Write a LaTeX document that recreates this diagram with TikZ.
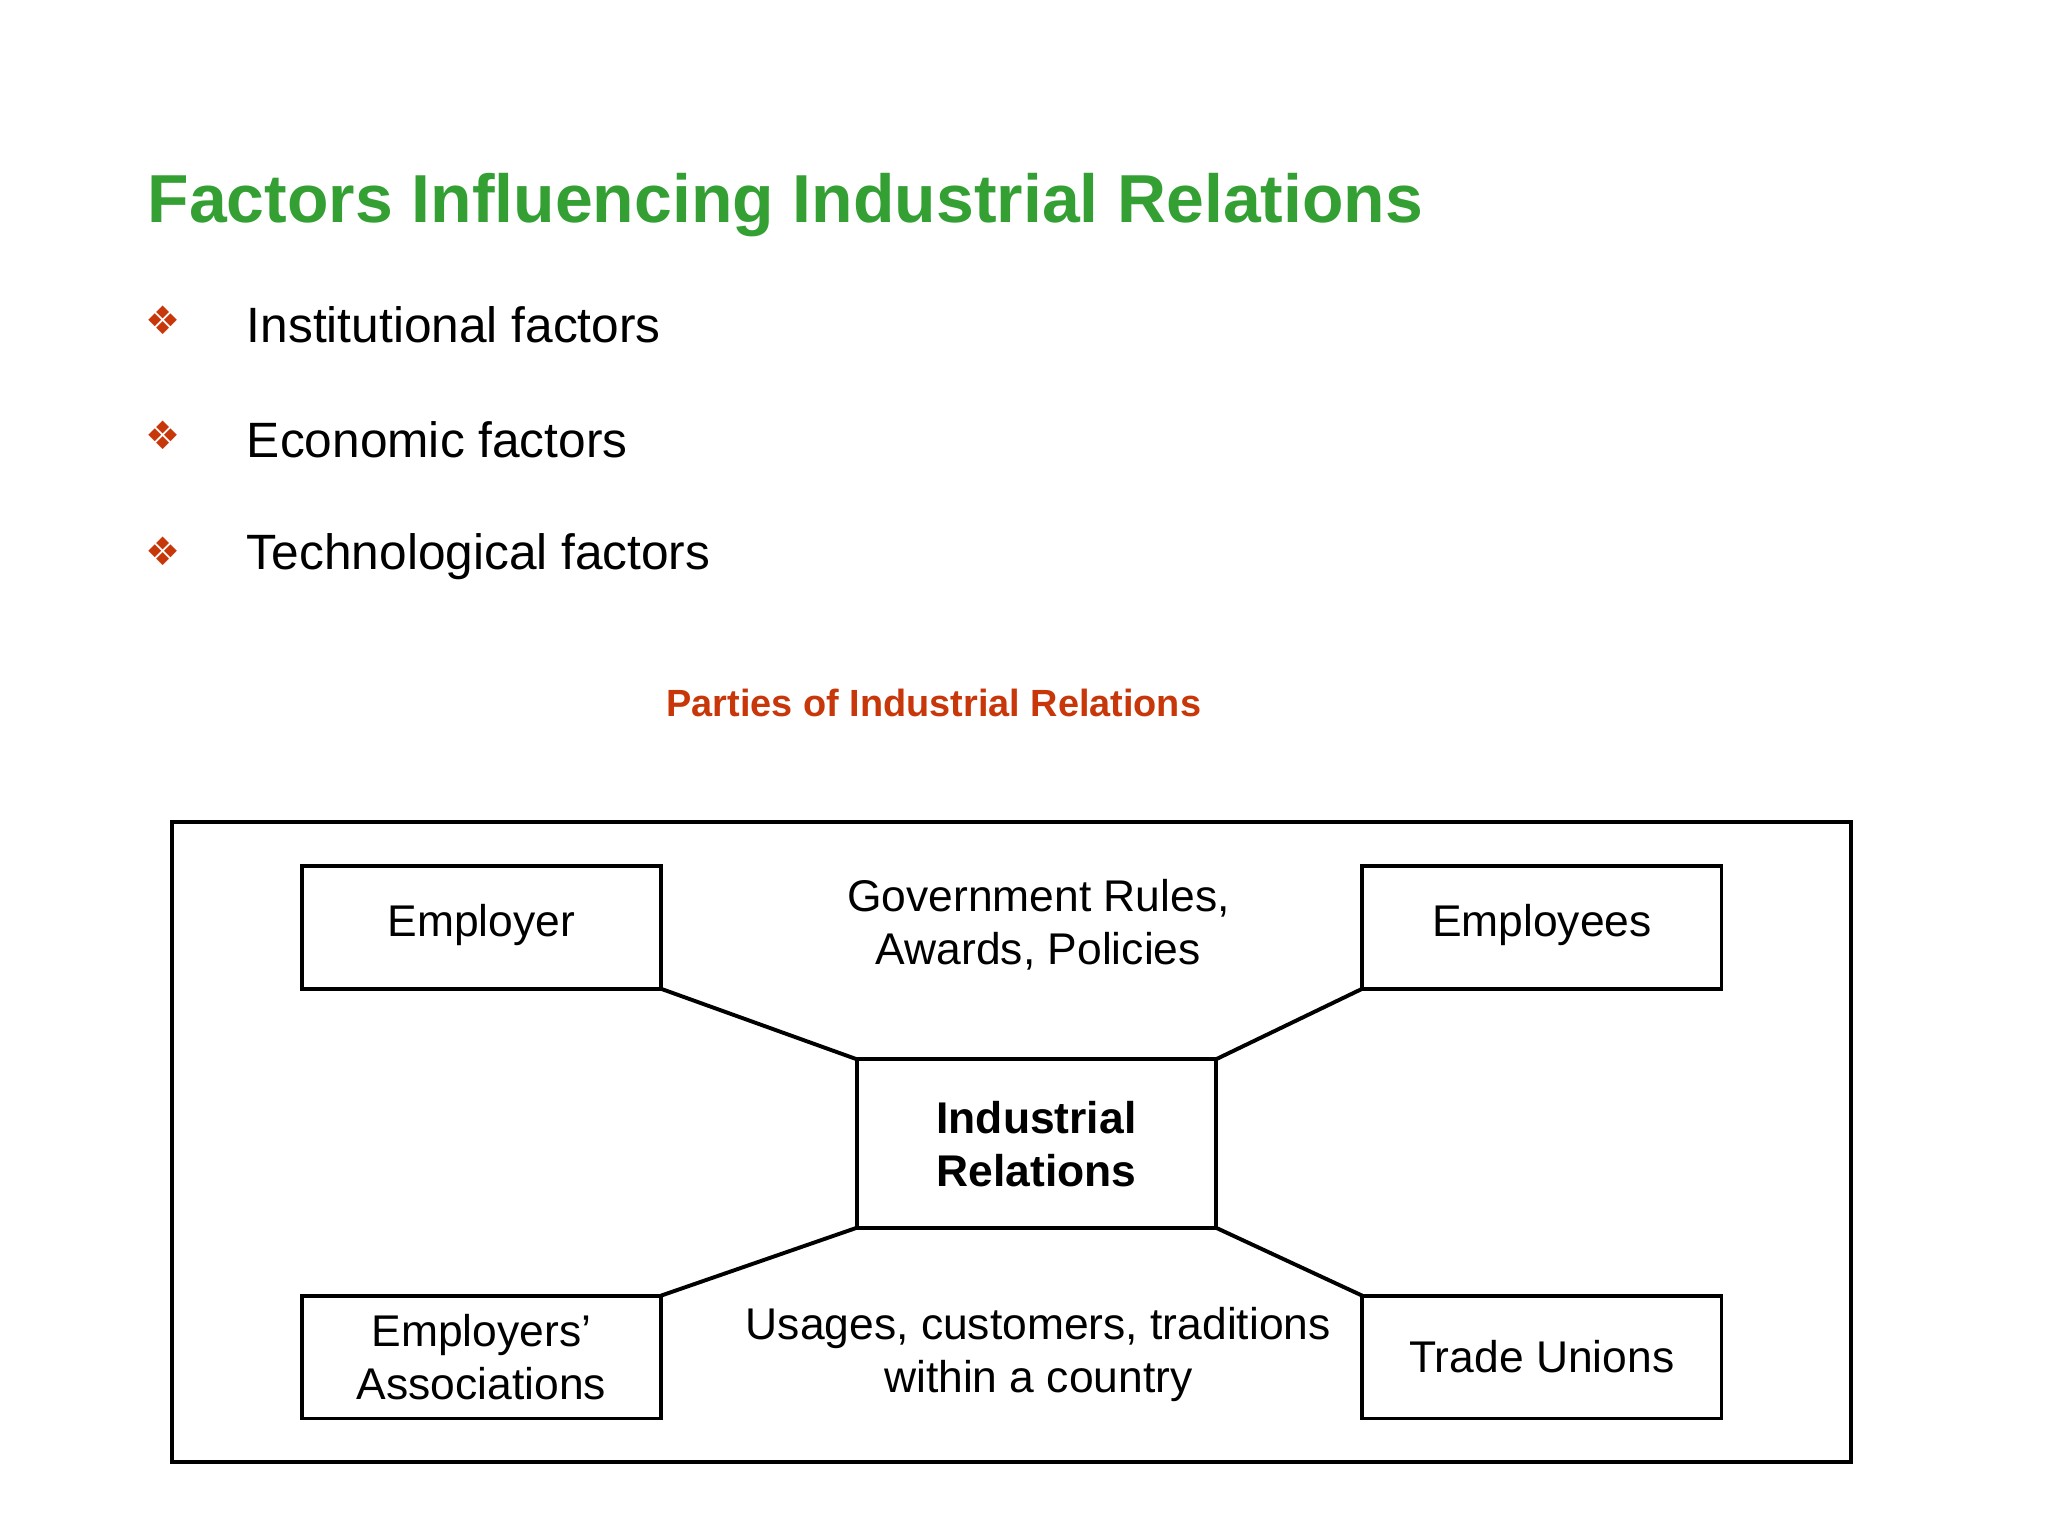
\documentclass[tikz,border=0pt]{standalone}
\usepackage{fontspec}
\setmainfont{Liberation Sans}
\newfontfamily\symb{DejaVu Sans}
\definecolor{ttlgreen}{RGB}{52,160,52}
\definecolor{redor}{RGB}{200,55,10}
\begin{document}
\begin{tikzpicture}[x=0.5pt,y=-0.5pt,
  box/.style={draw,line width=1.5pt,inner sep=0pt},
  lbl/.style={font=\fontsize{17}{20}\selectfont,align=center},
  conn/.style={line width=1.5pt}]
\useasboundingbox (0,0) rectangle (1568,1176);
\fill[white] (0,0) rectangle (1568,1176);
\node[anchor=west,text=ttlgreen,font=\fontsize{26}{30}\selectfont\bfseries] (title) at (106,157) {Factors Influencing Industrial Relations};
\foreach \y/\t [count=\i] in {249/Institutional factors,337/Economic factors,426/Technological factors}{
  \node[text=redor,font=\symb\fontsize{15}{18}\selectfont] (b\i) at (125,\y-4) {❖};
  \node[anchor=west,font=\fontsize{19}{22}\selectfont] (t\i) at (182,\y) {\t};
}
\node[text=redor,font=\fontsize{14.5}{17}\selectfont\bfseries] (sub) at (715,538) {Parties of Industrial Relations};
\draw[line width=1.5pt] (132,629) rectangle (1417,1119);
\draw[box] (231,663) rectangle (506,757);
\node[lbl] (emp) at (368.5,708) {Employer};
\draw[box] (1043,663) rectangle (1318,757);
\node[lbl] (emps) at (1180.5,708) {Employees};
\draw[box] (231,992) rectangle (506,1086);
\node[lbl] (ea) at (368.5,1039) {Employers’\\Associations};
\draw[box] (1043,992) rectangle (1318,1086);
\node[lbl] (tu) at (1180.5,1039) {Trade Unions};
\draw[box] (656,811) rectangle (931,940);
\node[lbl,font=\fontsize{17}{20}\selectfont\bfseries] (ir) at (793.5,876) {Industrial\\Relations};
\node[lbl] (gov) at (795,708) {Government Rules,\\Awards, Policies};
\node[lbl] (use) at (795,1037) {Usages, customers, traditions\\within a country};
\coordinate (e1) at (506,757); \coordinate (c1) at (656,811);
\coordinate (e2) at (1043,757); \coordinate (c2) at (931,811);
\coordinate (e3) at (506,992); \coordinate (c3) at (656,940);
\coordinate (e4) at (1043,992); \coordinate (c4) at (931,940);
\draw[conn] (e1) -- (c1);
\draw[conn] (e2) -- (c2);
\draw[conn] (e3) -- (c3);
\draw[conn] (e4) -- (c4);
\end{tikzpicture}
\end{document}
